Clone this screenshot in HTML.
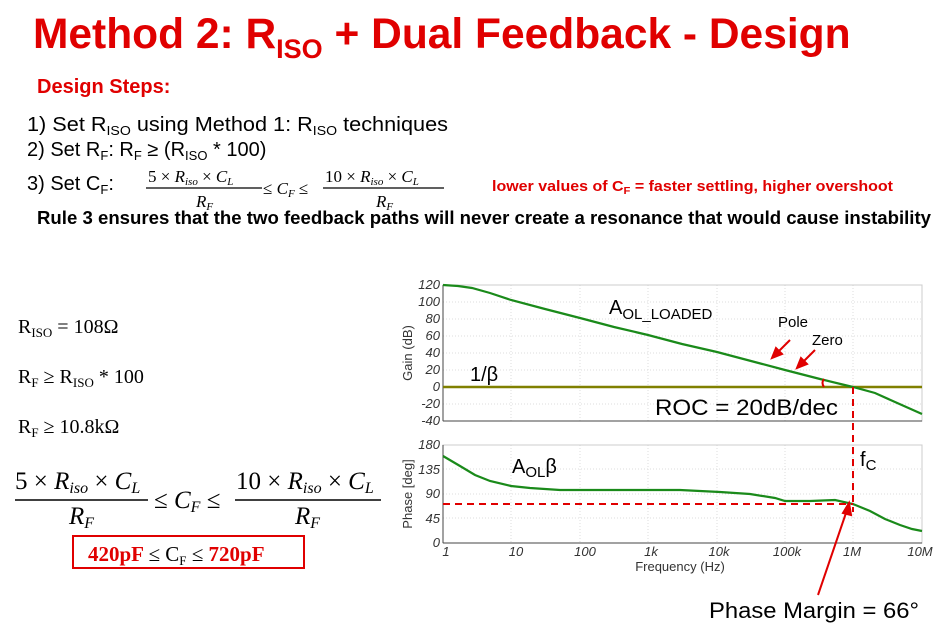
<!DOCTYPE html>
<html><head><meta charset="utf-8"><style>
body{margin:0;background:#fff;}
svg{display:block;font-family:"Liberation Sans",sans-serif;}
.ser{font-family:"Liberation Serif",serif;}
</style></head><body>
<svg width="944" height="627" viewBox="0 0 944 627" xmlns="http://www.w3.org/2000/svg">
<text x="33" y="48" font-size="42.5" font-weight="bold" fill="#e00000">Method 2: R<tspan font-size="27" dy="10">ISO</tspan><tspan dy="-10"> + Dual Feedback - Design</tspan></text>
<text x="37" y="93" font-size="20" font-weight="bold" fill="#e00000">Design Steps:</text>
<text x="27" y="131" font-size="20" textLength="421" lengthAdjust="spacingAndGlyphs">1) Set R<tspan font-size="13" dy="4">ISO</tspan><tspan dy="-4"> using Method 1: R</tspan><tspan font-size="13" dy="4">ISO</tspan><tspan dy="-4"> techniques</tspan></text>
<text x="27" y="156" font-size="20">2)  Set R<tspan font-size="13" dy="4">F</tspan><tspan dy="-4">: R</tspan><tspan font-size="13" dy="4">F</tspan><tspan dy="-4"> ≥ (R</tspan><tspan font-size="13" dy="4">ISO</tspan><tspan dy="-4"> * 100)</tspan></text>
<text x="27" y="190" font-size="20">3)  Set C<tspan font-size="13" dy="4">F</tspan><tspan dy="-4">:</tspan></text>
<g class="ser" font-size="17" font-style="italic">
<text x="148" y="182"><tspan font-style="normal">5 × </tspan>R<tspan font-size="11" dy="3">iso</tspan><tspan dy="-3" font-style="normal"> × </tspan>C<tspan font-size="11" dy="3">L</tspan></text>
<line x1="146" y1="188" x2="262" y2="188" stroke="#000" stroke-width="1.2"/>
<text x="196" y="207">R<tspan font-size="11" dy="3">F</tspan></text>
<text x="263" y="194"><tspan font-style="normal">≤ </tspan>C<tspan font-size="11" dy="3">F</tspan><tspan dy="-3" font-style="normal"> ≤</tspan></text>
<text x="325" y="182"><tspan font-style="normal">10 × </tspan>R<tspan font-size="11" dy="3">iso</tspan><tspan dy="-3" font-style="normal"> × </tspan>C<tspan font-size="11" dy="3">L</tspan></text>
<line x1="323" y1="188" x2="444" y2="188" stroke="#000" stroke-width="1.2"/>
<text x="376" y="207">R<tspan font-size="11" dy="3">F</tspan></text>
</g>
<text x="492" y="191" font-size="14.3" font-weight="bold" fill="#e00000" textLength="401" lengthAdjust="spacingAndGlyphs">lower values of C<tspan font-size="10" dy="3">F</tspan><tspan dy="-3"> = faster settling, higher overshoot</tspan></text>
<text x="37" y="224" font-size="18" font-weight="bold" textLength="894" lengthAdjust="spacingAndGlyphs">Rule 3 ensures that the two feedback paths will never create a resonance that would cause instability</text>

<g class="ser" font-size="20">
<text x="18" y="333">R<tspan font-size="13" dy="4">ISO</tspan><tspan dy="-4"> = 108Ω</tspan></text>
<text x="18" y="383">R<tspan font-size="13" dy="4">F</tspan><tspan dy="-4"> ≥ R</tspan><tspan font-size="13" dy="4">ISO</tspan><tspan dy="-4"> * 100</tspan></text>
<text x="18" y="433">R<tspan font-size="13" dy="4">F</tspan><tspan dy="-4"> ≥ 10.8kΩ</tspan></text>
<g font-size="25">
<text x="15" y="489">5 × <tspan font-style="italic">R</tspan><tspan font-style="italic" font-size="16" dy="4">iso</tspan><tspan dy="-4"> × </tspan><tspan font-style="italic">C</tspan><tspan font-style="italic" font-size="16" dy="4">L</tspan></text>
<line x1="15" y1="500" x2="148" y2="500" stroke="#000" stroke-width="1.5"/>
<text x="69" y="524" font-style="italic">R<tspan font-size="16" dy="4">F</tspan></text>
<text x="154" y="508">≤ <tspan font-style="italic">C</tspan><tspan font-style="italic" font-size="16" dy="4">F</tspan><tspan dy="-4"> ≤</tspan></text>
<text x="236" y="489">10 × <tspan font-style="italic">R</tspan><tspan font-style="italic" font-size="16" dy="4">iso</tspan><tspan dy="-4"> × </tspan><tspan font-style="italic">C</tspan><tspan font-style="italic" font-size="16" dy="4">L</tspan></text>
<line x1="235" y1="500" x2="381" y2="500" stroke="#000" stroke-width="1.5"/>
<text x="295" y="524" font-style="italic">R<tspan font-size="16" dy="4">F</tspan></text>
</g>
<rect x="73" y="536" width="231" height="32" fill="none" stroke="#e00000" stroke-width="2"/>
<text x="88" y="561" font-size="21" font-weight="bold" fill="#e00000">420pF <tspan fill="#000" font-weight="normal"> ≤  C</tspan><tspan fill="#000" font-weight="normal" font-size="13" dy="4">F</tspan><tspan fill="#000" font-weight="normal" dy="-4"> ≤ </tspan>720pF</text>
</g>

<g stroke="#ddd" stroke-width="1" stroke-dasharray="1,2">
<line x1="511" y1="285" x2="511" y2="421"/><line x1="580" y1="285" x2="580" y2="421"/><line x1="648" y1="285" x2="648" y2="421"/><line x1="717" y1="285" x2="717" y2="421"/><line x1="785" y1="285" x2="785" y2="421"/><line x1="853" y1="285" x2="853" y2="421"/>
<line x1="511" y1="445" x2="511" y2="543"/><line x1="580" y1="445" x2="580" y2="543"/><line x1="648" y1="445" x2="648" y2="543"/><line x1="717" y1="445" x2="717" y2="543"/><line x1="785" y1="445" x2="785" y2="543"/><line x1="853" y1="445" x2="853" y2="543"/>
<line x1="443" y1="302" x2="922" y2="302"/><line x1="443" y1="319" x2="922" y2="319"/><line x1="443" y1="336" x2="922" y2="336"/><line x1="443" y1="353" x2="922" y2="353"/><line x1="443" y1="370" x2="922" y2="370"/><line x1="443" y1="404" x2="922" y2="404"/>
<line x1="443" y1="469" x2="922" y2="469"/><line x1="443" y1="494" x2="922" y2="494"/><line x1="443" y1="518" x2="922" y2="518"/>
</g>
<rect x="443" y="285" width="479" height="136" fill="none" stroke="#ccc"/>
<rect x="443" y="445" width="479" height="98" fill="none" stroke="#ccc"/>
<line x1="443" y1="285" x2="443" y2="421" stroke="#444"/>
<line x1="443" y1="421" x2="922" y2="421" stroke="#444"/>
<line x1="443" y1="445" x2="443" y2="543" stroke="#444"/>
<line x1="443" y1="543" x2="922" y2="543" stroke="#444"/>
<g font-size="13" font-style="italic" fill="#333" text-anchor="end">
<text x="440" y="289">120</text><text x="440" y="306">100</text><text x="440" y="323">80</text><text x="440" y="340">60</text><text x="440" y="357">40</text><text x="440" y="374">20</text><text x="440" y="391">0</text><text x="440" y="408">-20</text><text x="440" y="425">-40</text>
<text x="440" y="449">180</text><text x="440" y="474">135</text><text x="440" y="498">90</text><text x="440" y="523">45</text><text x="440" y="547">0</text>
</g>
<g font-size="13" font-style="italic" fill="#333" text-anchor="middle">
<text x="446" y="556">1</text><text x="516" y="556">10</text><text x="585" y="556">100</text><text x="651" y="556">1k</text><text x="719" y="556">10k</text><text x="787" y="556">100k</text><text x="852" y="556">1M</text><text x="920" y="556">10M</text>
</g>
<text x="680" y="571" font-size="13" fill="#333" text-anchor="middle">Frequency (Hz)</text>
<text transform="translate(412,353) rotate(-90)" font-size="13" fill="#333" text-anchor="middle">Gain (dB)</text>
<text transform="translate(412,494) rotate(-90)" font-size="13" fill="#333" text-anchor="middle">Phase [deg]</text>

<line x1="443" y1="387" x2="922" y2="387" stroke="#808000" stroke-width="2.5"/>
<polyline fill="none" stroke="#1a8a1a" stroke-width="2.2" points="443,285 458,286 472,288 490,293 511,300 545,309 580,318 614,327 648,335 682,344 717,352 751,361 785,370 820,379 853,387 875,393 895,402 922,414"/>
<polyline fill="none" stroke="#1a8a1a" stroke-width="2.2" points="443,456 460,466 475,475 490,481 511,486 530,488 560,490 600,490 650,490 680,490 700,491 720,492 750,494 775,498 785,501 810,501 835,500 853,504 870,511 885,519 900,525 912,529 922,531"/>
<line x1="853" y1="387" x2="853" y2="512" stroke="#e00000" stroke-width="2" stroke-dasharray="7,5"/>
<line x1="443" y1="504" x2="853" y2="504" stroke="#e00000" stroke-width="2" stroke-dasharray="7,5"/>

<text x="609" y="314" font-size="20">A<tspan font-size="15" dy="5">OL_LOADED</tspan></text>
<text x="778" y="327" font-size="15">Pole</text>
<text x="812" y="345" font-size="15">Zero</text>
<text x="470" y="381" font-size="20">1/β</text>
<text x="655" y="415" font-size="22" textLength="183" lengthAdjust="spacingAndGlyphs">ROC = 20dB/dec</text>
<text x="512" y="473" font-size="20">A<tspan font-size="15" dy="4">OL</tspan><tspan dy="-4">β</tspan></text>
<text x="860" y="466" font-size="20">f<tspan font-size="15" dy="4">C</tspan></text>
<text x="709" y="618" font-size="22" textLength="210" lengthAdjust="spacingAndGlyphs">Phase Margin = 66°</text>
<g stroke="#e00000" stroke-width="2" fill="#e00000">
<line x1="790" y1="340" x2="776" y2="354"/><polygon points="772,358 776,348 782,354"/>
<line x1="815" y1="350" x2="801" y2="364"/><polygon points="797,368 801,358 807,364"/>
<line x1="818" y1="595" x2="847" y2="510"/><polygon points="849,503 843,513 851,515"/>
<path d="M824,379 Q821,383 824,387" fill="none"/>
</g>
</svg>
</body></html>
